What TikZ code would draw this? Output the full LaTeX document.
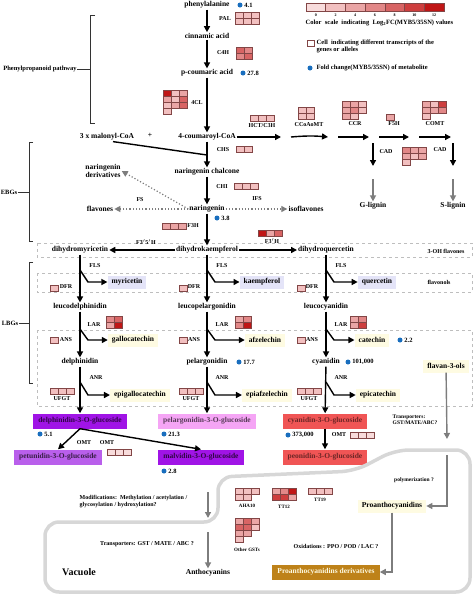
\documentclass[tikz,border=0pt]{standalone}
\usepackage{fontspec}
\setmainfont{Liberation Serif}
\usetikzlibrary{arrows.meta,positioning,calc}
\definecolor{hm0}{RGB}{248,220,220}
\definecolor{hm1}{RGB}{242,192,192}
\definecolor{hm2}{RGB}{234,165,165}
\definecolor{hm3}{RGB}{226,135,135}
\definecolor{hm4}{RGB}{216,100,100}
\definecolor{hm5}{RGB}{206,62,62}
\definecolor{hm6}{RGB}{192,22,22}
\definecolor{cellbd}{RGB}{130,70,70}
\definecolor{dotblue}{RGB}{25,110,190}
\definecolor{arrgray}{RGB}{125,125,125}
\definecolor{boxgray}{RGB}{190,190,190}
\definecolor{flvlbg}{RGB}{228,228,248}
\definecolor{flvbg}{RGB}{254,251,226}
\definecolor{delphc}{RGB}{160,20,230}
\definecolor{petuc}{RGB}{185,95,235}
\definecolor{pelac}{RGB}{245,165,245}
\definecolor{cyanc}{RGB}{240,85,85}
\definecolor{padc}{RGB}{190,130,25}
\definecolor{vacgray}{RGB}{215,215,215}
% heat map cells: x, y, {col/row/level,...}
\newcommand{\heatmap}[3]{%
  \foreach \hi/\hj/\hv in {#3}
    \filldraw[cell, fill=hm\hv] ({#1+8*\hi},{#2+6*\hj}) rectangle ++(8,6);}

\begin{document}
\begin{tikzpicture}[x=1pt,y=-1pt,
    cmp/.style={font=\fontsize{7.5}{8.5}\selectfont\bfseries, inner sep=1pt, align=center},
    enz/.style={font=\fontsize{6}{7}\selectfont\bfseries, inner sep=0.5pt, align=left},
    val/.style={font=\fontsize{6.5}{7}\selectfont\bfseries, inner sep=0.5pt},
    arr/.style={-{Triangle[length=6pt,width=6pt]}, line width=1.4pt},
    garr/.style={arr, draw=arrgray},
    darr/.style={-{Triangle[length=6pt,width=6pt]}, line width=1.2pt, dotted, draw=arrgray},
    brk/.style={line width=0.7pt, draw=black!80},
    dbox/.style={dashed, draw=boxgray, line width=0.8pt},
    flvl/.style={cmp, fill=flvlbg, minimum height=13pt, inner xsep=4pt},
    flv3/.style={cmp, fill=flvbg, minimum height=13pt, inner xsep=4pt},
    glc/.style={cmp, minimum height=15pt, inner xsep=5pt},
    cell/.style={draw=cellbd, line width=0.5pt},
    dot/.style={circle, fill=dotblue, inner sep=0pt, minimum size=5pt}
  ]
    \useasboundingbox (0,0) rectangle (474,598);

    % Legend
    \foreach \k/\t in {0/0,1/2,2/4,3/6,4/8,5/10,6/12} {
      \filldraw[cell, fill=hm\k] ({306+19.7*\k},3) rectangle ++(19.7,8);
      \node[font=\fontsize{4}{4}\selectfont\bfseries, inner sep=0pt] (sc\k) at ({315.8+19.7*\k},15) {\t};
    }
    \node[val, anchor=west] (lgscale) at (305,23) {Color\ \ scale\ \ indicating\ \ Log$_\mathbf{2}$FC(MYB5/35SN) values};
    \filldraw[cell, fill=white] (307,40) rectangle ++(7,6);
    \node[val, anchor=north west, align=left] (lgcell) at (316,39) {Cell\ \ indicating different transcripts of the\\genes or alleles};
    \node[dot] (lgdot) at (310,68) {};
    \node[val, anchor=west] (lgfc) at (316,68) {Fold change(MYB5/35SN) of metabolite};

    % Phenylpropanoid pathway
    \node[cmp] (phe) at (207,5)   {phenylalanine};
    \node[cmp] (cin) at (207,36)  {cinnamic acid};
    \node[cmp] (pco) at (207,73)  {p-coumaric acid};
    \node[cmp] (cou) at (207,137) {4-coumaroyl-CoA};
    \node[cmp] (mal) at (107,137) {3 x malonyl-CoA};
    \node[cmp] (plus) at (150,135) {+};
    \draw[arr] (phe) -- (cin);
    \draw[arr] (cin) -- (pco);
    \draw[arr] (pco) -- (cou);
    \node[enz] (pal) at (225,19) {PAL};
    \node[enz] (c4h) at (223,53) {C4H};
    \node[enz] (fcl) at (197,103) {4CL};
    \heatmap{235}{12}{0/0/1,1/0/1,2/0/1,0/1/1,1/1/1,2/1/1}
    \heatmap{236}{47}{0/0/4,1/0/3,0/1/3,1/1/4}
    \heatmap{163}{90}{0/0/6,1/0/1,2/0/2,0/1/2,1/1/1,2/1/4,0/2/1,1/2/2,2/2/4,0/3/1}
    \node[dot] (d1) at (240,5) {};
    \node[val, right=1pt of d1] (v1) {4.1};
    \node[dot] (d2) at (243,73) {};
    \node[val, right=1pt of d2] (v2) {27.8};
    \draw[brk] (95,15) -- (90,15) -- (90,123) -- (95,123);
    \node[val] (ppp) at (40,69) {Phenylpropanoid pathway};
    \draw[brk] (ppp) -- (90,69);

    % Lignin branch
    \foreach \n/\x in {1/281,2/291,3/328,4/338,5/369,6/379,7/409,8/419,9/451}
      \coordinate (lg\n) at (\x,137);
    \draw[arr] (cou) -- (lg1);
    \draw[arr] (lg2) to[bend left=5] (lg3);
    \draw[arr] (lg4) -- (lg5);
    \draw[arr] (lg6) -- (lg7);
    \draw[arr] (lg8) -- (lg9);
    \node[enz] (hct) at (262,126) {HCT/C3H};
    \node[enz] (ccoa) at (309,125) {CCoAoMT};
    \node[enz] (ccr) at (355,124) {CCR};
    \node[enz] (f5h) at (394,124) {F5H};
    \node[enz] (comt) at (435,124) {COMT};
    \heatmap{250}{115}{0/0/1,1/0/1,2/0/1}
    \heatmap{298}{107}{0/0/1,1/0/1,0/1/1,1/1/1}
    \heatmap{342}{101}{0/0/2,1/0/2,2/0/1,0/1/2,1/1/3,2/1/1,0/2/2,1/2/1}
    \heatmap{386}{114}{0/0/2}
    \heatmap{422}{101}{0/0/2,1/0/1,2/0/5,0/1/2,1/1/2,2/1/3,0/2/1}
    \coordinate (cad1a) at (373,143); \coordinate (cad1b) at (373,166);
    \coordinate (cad2a) at (453,143); \coordinate (cad2b) at (453,166);
    \draw[arr] (cad1a) -- (cad1b);
    \draw[arr] (cad2a) -- (cad2b);
    \node[enz] (cad1) at (386,152) {CAD};
    \node[enz] (cad2) at (440,150) {CAD};
    \heatmap{402}{147}{0/0/3,1/0/2,2/0/2,0/1/2,1/1/1,2/1/2,0/2/1}
    \node[cmp] (glig) at (373,206) {G-lignin};
    \node[cmp] (slig) at (453,206) {S-lignin};
    \coordinate (gl0) at (373,179); \coordinate (sl0) at (453,179);
    \draw[garr] (gl0) -- (glig);
    \draw[garr] (sl0) -- (slig);

    % EBGs
    \coordinate (chsj) at (207,155);
    \draw[line width=1.4pt] ([xshift=6pt]mal.south) -- (chsj);
    \node[cmp] (chal) at (207,172) {naringenin chalcone};
    \node[cmp] (nar)  at (207,209) {naringenin};
    \node[cmp] (flav) at (100,209) {flavones};
    \node[cmp] (nder) at (103,171) {naringenin\\derivatives};
    \node[cmp] (iso)  at (306,209) {isoflavones};
    \draw[arr] (cou) -- (chal);
    \draw[arr] (chal) -- (nar);
    \draw[darr] (nar) -- (flav);
    \draw[darr] (nar.west) -- (nder.east);
    \draw[darr] (nar) -- (iso);
    \node[enz] (chs) at (223,150) {CHS};
    \node[enz] (chi) at (222,187) {CHI};
    \node[enz] (fs)  at (140,200) {FS};
    \node[enz] (ifs) at (257,199) {IFS};
    \node[enz] (f3h) at (193,226) {F3H};
    \heatmap{236}{146}{0/0/1,1/0/1}
    \heatmap{234}{183}{0/0/1,1/0/1,2/0/1}
    \heatmap{162}{223}{0/0/2,1/0/2,2/0/2}
    \node[dot] (d3) at (217,218) {};
    \node[val, right=1pt of d3] (v3) {3.8};
    \draw[brk] (33,142) -- (29,142) -- (29,241) -- (33,241);
    \node[val] (ebg) at (9,192) {EBGs};
    \draw[brk] (ebg) -- (29,192);

    % 3-OH flavones
    \draw[dbox] (37,243) rectangle (472,257);
    \node[enz] (ohf) at (446,251) {3-OH flavones};
    \node[cmp] (dhk) at (207,250) {dihydrokaempferol};
    \node[cmp] (dhm) at (80,250)  {dihydromyricetin};
    \node[cmp] (dhq) at (326,250) {dihydroquercetin};
    \draw[arr] (nar) -- (dhk);
    \draw[arr] (dhk) -- (dhm);
    \draw[arr] (dhk) -- (dhq);
    \node[enz] (f35h) at (146,242) {F3$'$5$'$H};
    \node[enz] (f3ph) at (272,241) {F3$'$H};
    \heatmap{258}{230}{0/0/6,1/0/2,2/0/4}

    % flavonols
    \draw[dbox] (37,273) rectangle (472,292);
    \node[enz] (fol) at (439,282) {flavonols};
    \node[flvl] (myr) at (127,282) {myricetin};
    \node[flvl] (kae) at (262,282) {kaempferol};
    \node[flvl] (que) at (377,282) {quercetin};
    \node[cmp] (ldp) at (80,307)  {leucodelphinidin};
    \node[cmp] (lpg) at (207,307) {leucopelargonidin};
    \node[cmp] (lcy) at (326,307) {leucocyanidin};
    \draw[arr] (dhm) -- (ldp);
    \draw[arr] (dhk) -- (lpg);
    \draw[arr] (dhq) -- (lcy);
    \foreach \c/\x/\f in {1/80/myr,2/207/kae,3/326/que} {
      \coordinate (fls\c) at (\x,270);
      \draw[arr] (fls\c) -- ++(8,12) -- (\f.west);
    }
    \node[enz] (fls1l) at (95,266)  {FLS};
    \node[enz] (fls2l) at (222,266) {FLS};
    \node[enz] (fls3l) at (341,266) {FLS};
    \node[enz] (dfr1) at (66,287)  {DFR};
    \node[enz] (dfr2) at (194,287) {DFR};
    \node[enz] (dfr3) at (312,287) {DFR};
    \heatmap{50}{285}{0/0/1}
    \heatmap{179}{285}{0/0/1}
    \heatmap{297}{285}{0/0/1}

    % LBGs
    \draw[brk] (33,262) -- (29,262) -- (29,383) -- (33,383);
    \node[val] (lbg) at (10,323) {LBGs};
    \draw[brk] (lbg) -- (29,323);

    % flavan-3-ols
    \draw[dbox] (37,330) rectangle (472,406);
    \node[flv3] (fl3) at (446,366) {flavan-3-ols};
    \node[flv3] (gcat) at (133,340) {gallocatechin};
    \node[flv3] (afz)  at (265,340) {afzelechin};
    \node[flv3] (cat)  at (372,340) {catechin};
    \node[flv3] (egc)  at (140,395) {epigallocatechin};
    \node[flv3] (eaf)  at (267,395) {epiafzelechin};
    \node[flv3] (ecat) at (378,395) {epicatechin};
    \node[cmp] (del) at (80,362)  {delphinidin};
    \node[cmp] (pel) at (207,362) {pelargonidin};
    \node[cmp] (cya) at (326,362) {cyanidin};
    \draw[arr] (ldp) -- (del);
    \draw[arr] (lpg) -- (pel);
    \draw[arr] (lcy) -- (cya);
    \foreach \c/\x/\f in {1/80/gcat,2/207/afz,3/326/cat} {
      \coordinate (lar\c) at (\x,329);
      \draw[arr] (lar\c) -- ++(8,11) -- (\f.west);
    }
    \foreach \c/\x/\f in {1/80/egc,2/207/eaf,3/326/ecat} {
      \coordinate (anr\c) at (\x,382);
      \draw[arr] (anr\c) -- ++(8,13) -- (\f.west);
    }
    \node[enz] (lar1l) at (94,325)  {LAR};
    \node[enz] (lar2l) at (222,325) {LAR};
    \node[enz] (lar3l) at (341,325) {LAR};
    \heatmap{106}{316}{0/0/3,1/0/4,0/1/2,1/1/6}
    \heatmap{235}{316}{0/0/2,1/0/3,0/1/3,1/1/6}
    \heatmap{350}{316}{0/0/2,1/0/3,0/1/2,1/1/5}
    \node[enz] (ans1) at (66,340)  {ANS};
    \node[enz] (ans2) at (194,340) {ANS};
    \node[enz] (ans3) at (312,340) {ANS};
    \heatmap{50}{337}{0/0/1}
    \heatmap{179}{337}{0/0/1}
    \heatmap{297}{337}{0/0/1}
    \node[enz] (anr1l) at (96,378)  {ANR};
    \node[enz] (anr2l) at (222,378) {ANR};
    \node[enz] (anr3l) at (341,378) {ANR};
    \heatmap{50}{388}{0/0/1,1/0/1,2/0/1}
    \heatmap{179}{388}{0/0/1,1/0/1,2/0/1}
    \heatmap{297}{388}{0/0/1,1/0/1,2/0/1}
    \node[enz] (ufgt1) at (62,399)  {UFGT};
    \node[enz] (ufgt2) at (191,399) {UFGT};
    \node[enz] (ufgt3) at (309,399) {UFGT};
    \node[dot] (d4) at (400,340) {};
    \node[val, right=1pt of d4] (v4) {2.2};
    \node[dot] (d5) at (239,362) {};
    \node[val, right=1pt of d5] (v5) {17.7};
    \node[dot] (d6) at (348,362) {};
    \node[val, right=1pt of d6] (v6) {101,000};

    % Glucosides
    \node[glc, fill=delphc, text=black!70!delphc] (dglc) at (80,421)  {delphinidin-3-O-glucoside};
    \node[glc, fill=pelac, text=black!65!pelac]  (plgc) at (207,421) {pelargonidin-3-O-glucoside};
    \node[glc, fill=cyanc, text=black!55!cyanc]  (cglc) at (325,421) {cyanidin-3-O-glucoside};
    \node[glc, fill=petuc, text=black!70!petuc]  (pglc) at (58,457)  {petunidin-3-O-glucoside};
    \node[glc, fill=delphc, text=black!70!delphc] (mglc) at (201,457) {malvidin-3-O-glucoside};
    \node[glc, fill=cyanc, text=black!55!cyanc]  (pnglc) at (325,457) {peonidin-3-O-glucoside};
    \draw[arr] (del) -- (dglc);
    \draw[arr] (pel) -- (plgc);
    \draw[arr] (cya) -- (cglc);
    \draw[arr] (dglc.south) -- (pglc.north);
    \draw[arr] (dglc.south) -- (mglc.north);
    \draw[arr] (cglc) -- (pnglc);
    \node[enz] (omt1) at (84,443)  {OMT};
    \node[enz] (omt2) at (107,443) {OMT};
    \node[enz] (omt3) at (339,435) {OMT};
    \heatmap{107}{449}{0/0/0,1/0/0,2/0/0}
    \heatmap{350}{432}{0/0/0,1/0/0,2/0/0}
    \node[dot] (d7) at (40,434) {};
    \node[val, right=1pt of d7] (v7) {5.1};
    \node[dot] (d8) at (164,434) {};
    \node[val, right=1pt of d8] (v8) {21.3};
    \node[dot] (d9) at (164,471) {};
    \node[val, right=1pt of d9] (v9) {2.8};
    \node[dot] (d10) at (288,435) {};
    \node[val, right=1pt of d10] (v10) {373,000};

    % Transport to the vacuole
    \node[enz, font=\fontsize{5.5}{6}\selectfont\bfseries] (trp) at (415,420) {Transporters:\\GST/MATE/ABC?};
    \coordinate (pa0) at (447,439);
    \coordinate (pa1) at (447,455);
    \draw[garr] (fl3) -- (pa0);
    \draw[vacgray, line width=3.5pt, rounded corners=14pt]
      (45,560) -- (45,522) -- (218,522) -- (218,477) -- (355,471) -- (395,450) -- (470,450) -- (470,592) -- (45,592) -- cycle;
    \node[font=\fontsize{10}{11}\selectfont\bfseries] (vac) at (79,572) {Vacuole};
    \coordinate (mod0) at (208,492); \coordinate (mod1) at (208,518);
    \coordinate (ant0) at (208,532);
    \draw[garr] (mod0) -- (mod1);
    \node[enz, anchor=west] (modl) at (79,502) {Modifications:\ \ Methylation / acetylation /\\glycosylation / hydroxylation?};
    \node[cmp] (anth) at (208,573) {Anthocyanins};
    \draw[garr] (ant0) -- (anth);
    \node[enz] (trv) at (147,544) {Transporters: GST / MATE / ABC ?};
    \heatmap{235}{488}{0/0/1,1/0/1,2/0/1,0/1/1,1/1/1}
    \heatmap{272}{488}{0/0/2,1/0/3,2/0/6,0/1/5,1/1/5,2/1/2}
    \heatmap{308}{488}{0/0/1,1/0/1,2/0/1}
    \heatmap{235}{518}{0/0/2,1/0/4,2/0/2,0/1/4,1/1/4,2/1/1,0/2/2,1/2/2,0/3/1}
    \node[enz, font=\fontsize{5}{6}\selectfont\bfseries] (aha) at (247,506) {AHA10};
    \node[enz, font=\fontsize{5}{6}\selectfont\bfseries] (tt12) at (284,507) {TT12};
    \node[enz, font=\fontsize{5}{6}\selectfont\bfseries] (tt19) at (320,500) {TT19};
    \node[enz, font=\fontsize{5}{6}\selectfont\bfseries] (ogst) at (247,550) {Other GSTs};
    \node[enz, font=\fontsize{5.5}{6}\selectfont\bfseries] (poly) at (414,480) {polymerization ?};
    \node[flv3] (pac) at (392,506) {Proanthocyanidins};
    \node[glc, fill=padc, text=flvbg] (pad) at (326,572) {Proanthocyanidins derivatives};
    \draw[garr] (pa1) |- (pac.east);
    \draw[garr] (pac.south) |- (pad.east);
    \node[enz] (oxi) at (336,546) {Oxidations : PPO / POD / LAC ?};
  \end{tikzpicture}
\end{document}
